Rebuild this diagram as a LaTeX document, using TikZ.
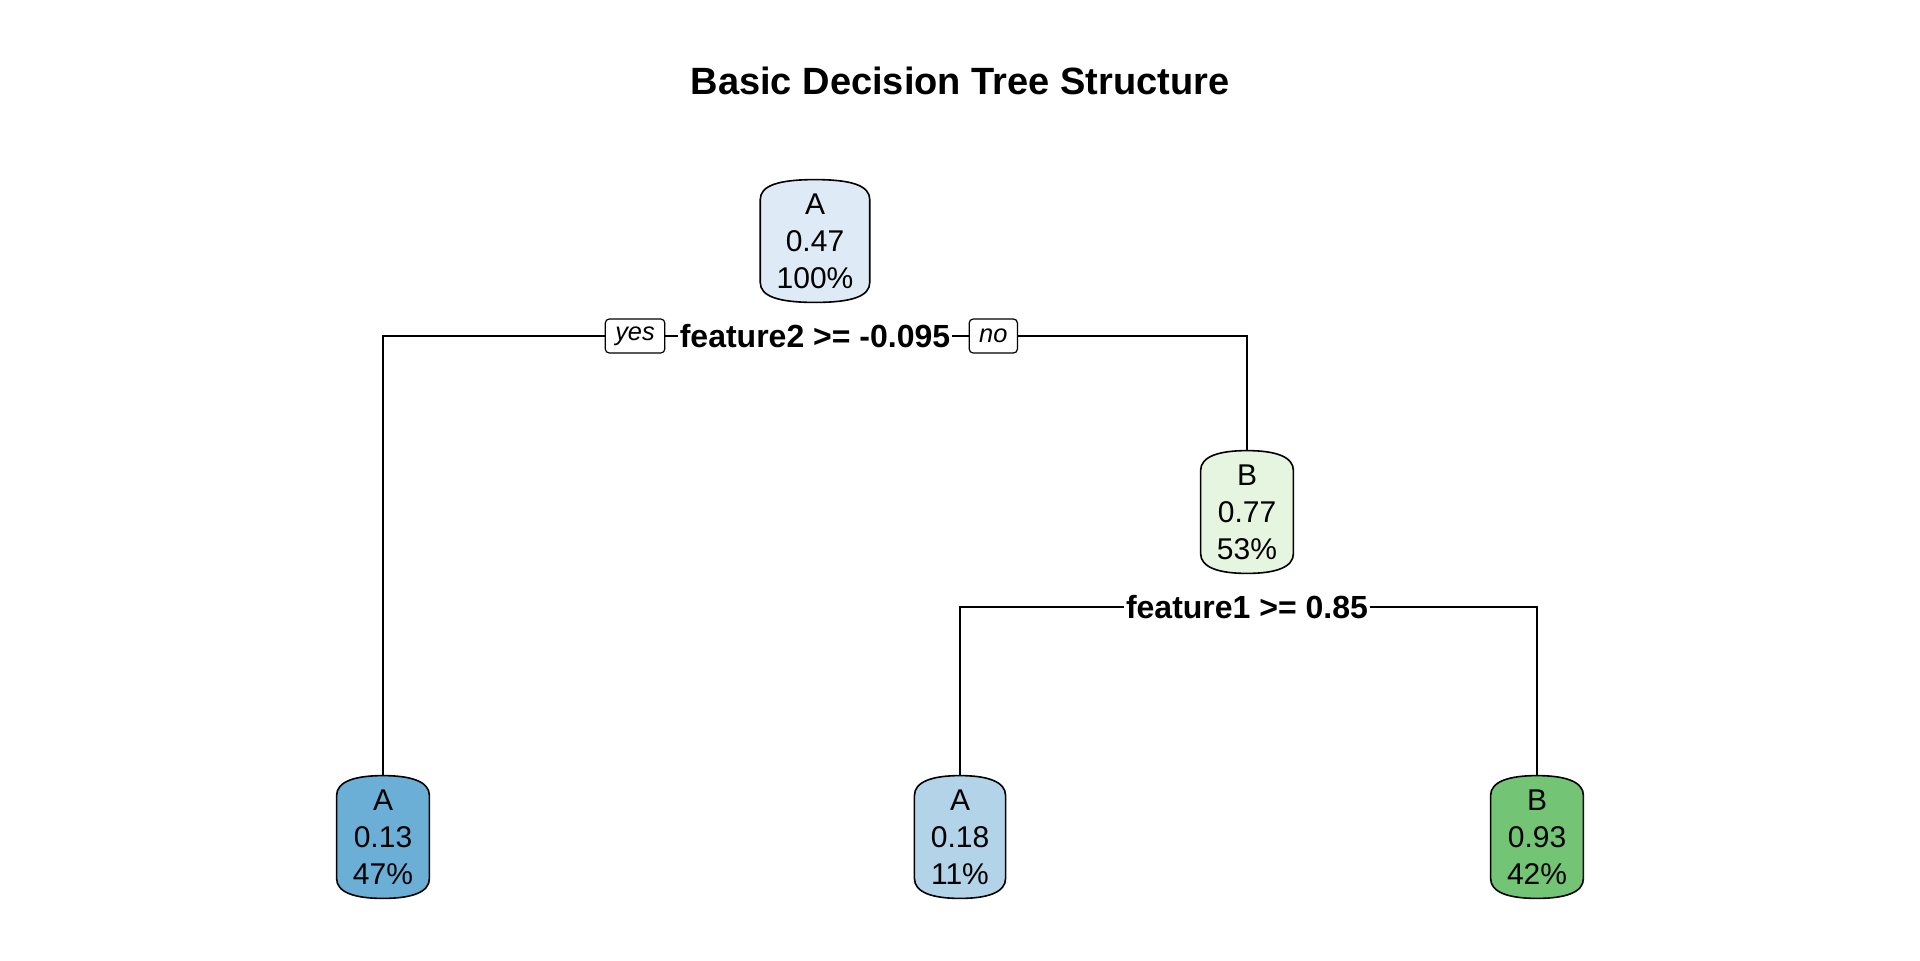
\documentclass[tikz,border=0pt]{standalone}
\usepackage{fontspec}
\setmainfont{Liberation Sans}
\usetikzlibrary{positioning, backgrounds}

\definecolor{rootfill}{HTML}{DEEBF7}
\definecolor{bfill}{HTML}{E5F5E0}
\definecolor{leafA}{HTML}{6BAED6}
\definecolor{leafAl}{HTML}{B3D3E8}
\definecolor{leafB}{HTML}{74C476}

\tikzset{
  tnode/.style={align=center, inner xsep=8pt, inner ysep=0pt, minimum height=61pt, font=\fontsize{15}{18.5}\selectfont},
  split/.style={fill=white, inner sep=1pt, font=\bfseries\fontsize{16}{19}\selectfont},
  ans/.style={draw, fill=white, rounded corners=2pt, inner xsep=5pt, inner ysep=0pt, minimum height=17pt, line width=0.6pt, font=\itshape\fontsize{12.7}{15}\selectfont},
  link/.style={line width=0.6pt}
}
\newcommand\treebox[2]{%
  \draw[line width=0.8pt, fill=#2] ([yshift=-10pt]#1.north west)
    .. controls ([yshift=-3pt]#1.north west) and ([xshift=9pt]#1.north west) .. (#1.north)
    .. controls ([xshift=-9pt]#1.north east) and ([yshift=-3pt]#1.north east) .. ([yshift=-10pt]#1.north east)
    -- ([yshift=10pt]#1.south east)
    .. controls ([yshift=3pt]#1.south east) and ([xshift=-9pt]#1.south east) .. (#1.south)
    .. controls ([xshift=9pt]#1.south west) and ([yshift=3pt]#1.south west) .. ([yshift=10pt]#1.south west) -- cycle;}

\begin{document}
\begin{tikzpicture}[x=0.5pt, y=-0.5pt]
  \useasboundingbox (0,0) rectangle (1920,960);
  \node[font=\bfseries\fontsize{19}{23}\selectfont] (title) at (960,81) {Basic Decision Tree Structure};
  \node[tnode] (root) at (815,241) {A\\0.47\\100\%};
  \node[split] (s1) at (815,336) {feature2 >= -0.095};
  \node[ans, left=6pt of s1] (yes) {yes};
  \node[ans, right=8pt of s1] (no) {no};
  \node[tnode] (nB) at (1247,512) {B\\0.77\\53\%};
  \node[split] (s2) at (1247,607) {feature1 >= 0.85};
  \node[tnode] (l1) at (383,837) {A\\0.13\\47\%};
  \node[tnode] (l2) at (960,837) {A\\0.18\\11\%};
  \node[tnode] (l3) at (1537,837) {B\\0.93\\42\%};
  \begin{scope}[on background layer]
    \draw[link] (l1.north) |- (s1.center) -| (nB.north);
    \draw[link] (l2.north) |- (s2.center) -| (l3.north);
    \treebox{root}{rootfill}
    \treebox{nB}{bfill}
    \treebox{l1}{leafA}
    \treebox{l2}{leafAl}
    \treebox{l3}{leafB}
  \end{scope}
\end{tikzpicture}
\end{document}
